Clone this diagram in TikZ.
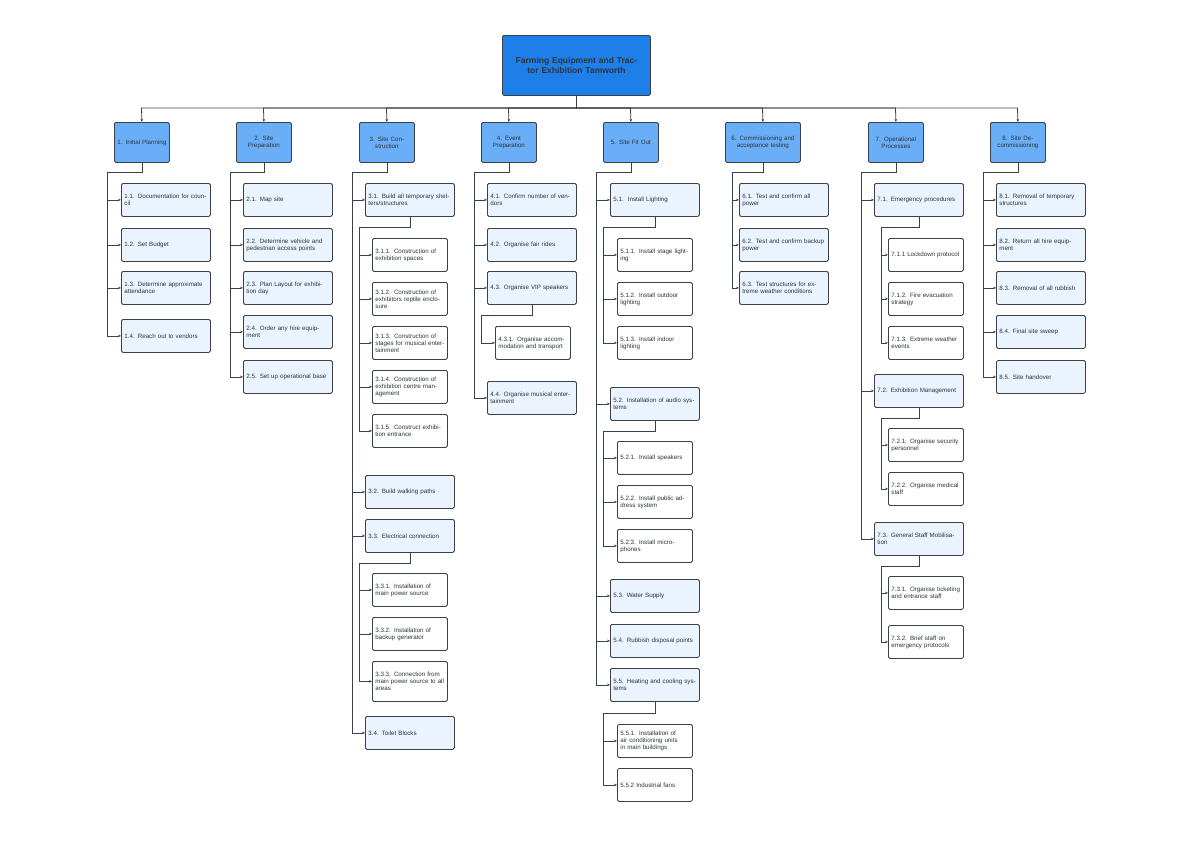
\documentclass[tikz,border=0pt]{standalone}
\usepackage{fontspec}
\setmainfont{Liberation Sans}
\usetikzlibrary{arrows.meta}
\definecolor{bord}{HTML}{3A414A}
\definecolor{txt}{HTML}{2D333A}
\definecolor{rootc}{HTML}{1F7FE8}
\definecolor{lvc}{HTML}{6AAEF7}
\definecolor{chc}{HTML}{EAF3FE}
\tikzset{
 base/.style={draw=bord, line width=0.8pt, rounded corners=1.5pt, anchor=north west, inner sep=3pt, text=txt, font=\fontsize{6.2}{7}\selectfont},
 rootbox/.style={base, fill=rootc, minimum width=148pt, minimum height=60pt, text width=142pt, align=center, font=\fontsize{8.5}{10}\selectfont\bfseries},
 lvbox/.style={base, fill=lvc, minimum width=55pt, minimum height=40pt, text width=49pt, align=center},
 lvwide/.style={lvbox, minimum width=75pt, text width=69pt},
 chbox/.style={base, fill=chc, minimum width=89pt, minimum height=33pt, text width=83pt, align=left},
 gbox/.style={base, fill=white, minimum width=75pt, minimum height=33pt, text width=69pt, align=left},
 conn/.style={draw=bord, line width=0.8pt, -{Stealth[length=3pt,width=2.5pt]}},
}
\newcommand\bx[5]{\node[#4] (#1) at (#2,#3) {#5};}
\newcommand\lnk[4]{\draw[conn] (#1.south) |- (#3,#4) |- (#2.west);}
\newcommand\toplnk[2]{\draw[conn] (root.south) |- (#2,108) -- (#1.north);}
\begin{document}
\begin{tikzpicture}[x=1pt,y=-1pt]
\fill[white] (0,0) rectangle (1200,849);
\useasboundingbox (0,0) rectangle (1200,849);
\bx{root}{502}{35}{rootbox}{Farming Equipment and Tractor Exhibition Tamworth}
% level 1
\bx{c1}{114}{122}{lvbox}{1. Initial Planning}
\bx{c2}{236}{122}{lvbox}{2. Site Preparation}
\bx{c3}{359}{122}{lvbox}{3. Site Construction}
\bx{c4}{481}{122}{lvbox}{4. Event Preparation}
\bx{c5}{603}{122}{lvbox}{5. Site Fit Out}
\bx{c6}{725}{122}{lvwide}{6. Commissioning and acceptance testing}
\bx{c7}{868}{122}{lvbox}{7. Operational Processes}
\bx{c8}{990}{122}{lvbox}{8. Site Decommissioning}
\foreach \n/\x in {c1/141.5,c2/263.5,c3/386.5,c4/508.5,c5/630.5,c6/762.5,c7/895.5,c8/1017.5}{\toplnk{\n}{\x}}
% column 1
\bx{a11}{121}{183}{chbox}{1.1. Documentation for council}
\bx{a12}{121}{228}{chbox}{1.2. Set Budget}
\bx{a13}{121}{271}{chbox}{1.3. Determine approximate attendance}
\bx{a14}{121}{319}{chbox}{1.4. Reach out to vendors}
\foreach \n in {a11,a12,a13,a14}{\lnk{c1}{\n}{107}{172}}
% column 2
\bx{b21}{243}{183}{chbox}{2.1. Map site}
\bx{b22}{243}{228}{chbox}{2.2. Determine vehicle and pedestrian access points}
\bx{b23}{243}{271}{chbox}{2.3. Plan Layout for exhibition day}
\bx{b24}{243}{315}{chbox}{2.4. Order any hire equipment}
\bx{b25}{243}{360}{chbox}{2.5. Set up operational base}
\foreach \n in {b21,b22,b23,b24,b25}{\lnk{c2}{\n}{230}{172}}
% column 3
\bx{d31}{365}{183}{chbox}{3.1. Build all temporary shelters/structures}
\bx{d311}{372}{238}{gbox}{3.1.1. Construction of exhibition spaces}
\bx{d312}{372}{282}{gbox}{3.1.2. Construction of exhibitors reptile enclosure}
\bx{d313}{372}{326}{gbox}{3.1.3. Construction of stages for musical entertainment}
\bx{d314}{372}{370}{gbox}{3.1.4. Construction of exhibition centre management}
\bx{d315}{372}{414}{gbox}{3.1.5. Construct exhibition entrance}
\foreach \n in {d311,d312,d313,d314,d315}{\lnk{d31}{\n}{359}{227}}
\bx{d32}{365}{475}{chbox}{3.2. Build walking paths}
\bx{d33}{365}{519}{chbox}{3.3. Electrical connection}
\bx{d331}{372}{573}{gbox}{3.3.1. Installation of main power source}
\bx{d332}{372}{617}{gbox}{3.3.2. Installation of backup generator}
\bx{d333}{372}{661}{gbox,minimum height=40pt}{3.3.3. Connection from main power source to all areas}
\foreach \n in {d331,d332,d333}{\lnk{d33}{\n}{359}{563}}
\bx{d34}{365}{716}{chbox}{3.4. Toilet Blocks}
\foreach \n in {d31,d32,d33,d34}{\lnk{c3}{\n}{352}{172}}
% column 4
\bx{e41}{487}{183}{chbox}{4.1. Confirm number of vendors}
\bx{e42}{487}{228}{chbox}{4.2. Organise fair rides}
\bx{e43}{487}{271}{chbox}{4.3. Organise VIP speakers}
\bx{e431}{495}{326}{gbox}{4.3.1. Organise accommodation and transport}
\lnk{e43}{e431}{481}{315}
\bx{e44}{487}{381}{chbox}{4.4. Organise musical entertainment}
\foreach \n in {e41,e42,e43,e44}{\lnk{c4}{\n}{474}{172}}
% column 5
\bx{f51}{610}{183}{chbox}{5.1.\ \ Install Lighting}
\bx{f511}{617}{238}{gbox}{5.1.1. Install stage lighting}
\bx{f512}{617}{282}{gbox}{5.1.2. Install outdoor lighting}
\bx{f513}{617}{326}{gbox}{5.1.3. Install indoor lighting}
\foreach \n in {f511,f512,f513}{\lnk{f51}{\n}{603}{227}}
\bx{f52}{610}{387}{chbox}{5.2. Installation of audio systems}
\bx{f521}{617}{441}{gbox}{5.2.1. Install speakers}
\bx{f522}{617}{485}{gbox}{5.2.2. Install public address system}
\bx{f523}{617}{529}{gbox}{5.2.3. Install microphones}
\foreach \n in {f521,f522,f523}{\lnk{f52}{\n}{603}{431}}
\bx{f53}{610}{579}{chbox}{5.3. Water Supply}
\bx{f54}{610}{624}{chbox}{5.4. Rubbish disposal points}
\bx{f55}{610}{668}{chbox}{5.5. Heating and cooling systems}
\bx{f551}{617}{724}{gbox}{5.5.1. Installation of air conditioning units in main buildings}
\bx{f552}{617}{768}{gbox}{5.5.2 Industrial fans}
\foreach \n in {f551,f552}{\lnk{f55}{\n}{603}{713}}
\foreach \n in {f51,f52,f53,f54,f55}{\lnk{c5}{\n}{596}{172}}
% column 6
\bx{g61}{739}{183}{chbox}{6.1. Test and confirm all power}
\bx{g62}{739}{228}{chbox}{6.2. Test and confirm backup power}
\bx{g63}{739}{271}{chbox}{6.3. Test structures for extreme weather conditions}
\foreach \n in {g61,g62,g63}{\lnk{c6}{\n}{732}{172}}
% column 7
\bx{h71}{874}{183}{chbox}{7.1. Emergency procedures}
\bx{h711}{888}{238}{gbox}{7.1.1 Lockdown protocol}
\bx{h712}{888}{282}{gbox}{7.1.2. Fire evacuation strategy}
\bx{h713}{888}{326}{gbox}{7.1.3. Extreme weather events}
\foreach \n in {h711,h712,h713}{\lnk{h71}{\n}{881}{227}}
\bx{h72}{874}{374}{chbox}{7.2. Exhibition Management}
\bx{h721}{888}{428}{gbox}{7.2.1. Organise security personnel}
\bx{h722}{888}{472}{gbox}{7.2.2. Organise medical staff}
\foreach \n in {h721,h722}{\lnk{h72}{\n}{881}{418}}
\bx{h73}{874}{522}{chbox}{7.3. General Staff Mobilisation}
\bx{h731}{888}{576}{gbox}{7.3.1. Organise ticketing and entrance staff}
\bx{h732}{888}{625}{gbox}{7.3.2. Brief staff on emergency protocols}
\foreach \n in {h731,h732}{\lnk{h73}{\n}{881}{566}}
\foreach \n in {h71,h72,h73}{\lnk{c7}{\n}{861}{172}}
% column 8
\bx{k81}{996}{183}{chbox}{8.1. Removal of temporary structures}
\bx{k82}{996}{228}{chbox}{8.2. Return all hire equipment}
\bx{k83}{996}{271}{chbox}{8.3. Removal of all rubbish}
\bx{k84}{996}{315}{chbox}{8.4. Final site sweep}
\bx{k85}{996}{360}{chbox}{8.5. Site handover}
\foreach \n in {k81,k82,k83,k84,k85}{\lnk{c8}{\n}{983}{172}}
\end{tikzpicture}
\end{document}
